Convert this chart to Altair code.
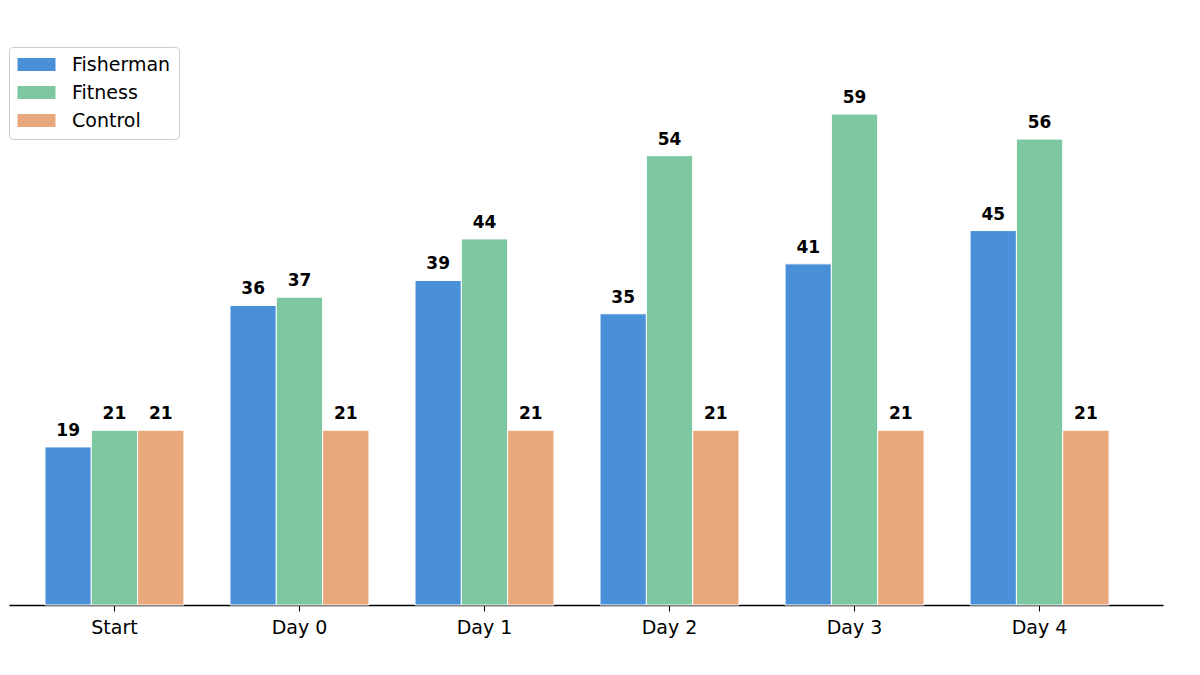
import altair as alt
import pandas as pd

days = ["Start", "Day 0", "Day 1", "Day 2", "Day 3", "Day 4"]
groups = ["Fisherman", "Fitness", "Control"]
fisherman = [19, 36, 39, 35, 41, 45]
fitness = [21, 37, 44, 54, 59, 56]
control = [21, 21, 21, 21, 21, 21]
colors = ["#4a90d9", "#7dc8a0", "#e8a87c"]

rows = []
for g, vals in zip(groups, [fisherman, fitness, control]):
    for d, v in zip(days, vals):
        rows.append({"day": d, "group": g, "value": v})
df = pd.DataFrame(rows)

x = alt.X("day:N", sort=days, title=None,
          scale=alt.Scale(paddingInner=0.249, paddingOuter=0.243, align=0.4),
          axis=alt.Axis(labelAngle=0, labelFontSize=19, labelFont="DejaVu Sans",
                        labelColor="#000000", domainColor="#000000", domainWidth=1.3,
                        tickColor="#000000", tickSize=6, tickWidth=1, labelPadding=7))
xo = alt.XOffset("group:N", sort=groups, scale=alt.Scale(paddingInner=0, paddingOuter=0))
y = alt.Y("value:Q", scale=alt.Scale(domain=[0, 71.75], nice=False), axis=None)
color = alt.Color("group:N", sort=groups,
                  scale=alt.Scale(domain=groups, range=colors),
                  legend=alt.Legend(title=None, orient="none", legendX=0, legendY=39,
                                    labelFontSize=19, labelFont="DejaVu Sans", labelColor="#000000",
                                    symbolType="M-2,-0.68H2V0.68H-2Z", symbolSize=361,
                                    symbolStrokeWidth=0, symbolOpacity=1, symbolOffset=10,
                                    fillColor="white", strokeColor="#cccccc", cornerRadius=4,
                                    padding=8, rowPadding=8, labelOffset=26))

bars = alt.Chart(df).mark_bar(stroke="white", strokeWidth=1).encode(
    x=x, xOffset=xo, y=y, color=color)

labels = alt.Chart(df).mark_text(dy=-11, baseline="alphabetic", fontWeight="bold",
                                 fontSize=17, font="DejaVu Sans", color="#000000").encode(
    x=x, xOffset=xo, y=y, text="value:Q")

chart = (bars + labels).properties(
    width=1154, height=597, background="white",
    padding={"left": 0, "top": 0, "right": 20, "bottom": 50}
).configure_view(strokeWidth=0, stroke="transparent")

chart.save("out.html", embed_options={"renderer": "svg", "actions": False})
